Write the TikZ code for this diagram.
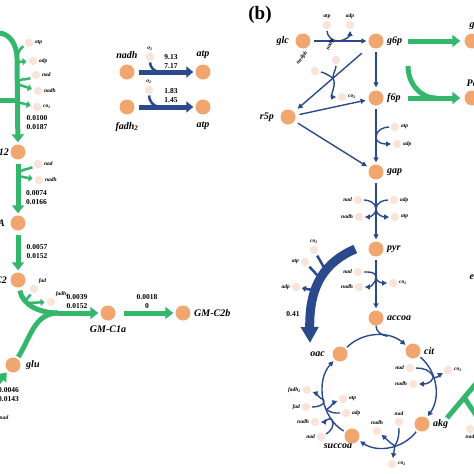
\documentclass[tikz,border=0pt]{standalone}
\usepackage{fontspec}
\setmainfont{Liberation Serif}
\usetikzlibrary{arrows.meta, positioning, calc}
\definecolor{metab}{HTML}{F2A66F}
\definecolor{cofac}{HTML}{F8E4D8}
\definecolor{gmflux}{HTML}{34B76C}
\definecolor{cmflux}{HTML}{2B4A8B}

\begin{document}
\begin{tikzpicture}[x=1pt, y=-1pt,
    met/.style={circle, fill=metab, minimum size=15pt, inner sep=0pt},
    cof/.style={circle, fill=cofac, minimum size=8.5pt, inner sep=0pt},
    mlab/.style={font=\fontsize{10}{10}\selectfont\bfseries\itshape},
    clab/.style={font=\fontsize{5.5}{6}\selectfont\bfseries\itshape, inner sep=1.5pt},
    val/.style={font=\fontsize{7.5}{9}\selectfont\bfseries, align=center, inner sep=0pt},
    gline/.style={gmflux, line width=5pt},
    gflux/.style={gline, -{Triangle[length=8pt, width=12pt]}},
    gtwig/.style={gmflux, line width=2.5pt},
    gtwiga/.style={gtwig, -{Triangle[length=4pt, width=7pt]}},
    bline/.style={cmflux, line width=1.4pt},
    bflux/.style={bline, -{Triangle[length=5pt, width=5pt]}},
    bwide/.style={cmflux, line width=5pt, -{Triangle[length=7pt, width=11pt]}},
    bhuge/.style={cmflux, line width=9pt, -{Triangle[length=16pt, width=17pt]}},
  ]
  \useasboundingbox (0,0) rectangle (474,474);

  % (a) glycogen side
  \coordinate (topin) at (-2,33);
  \coordinate (tbend) at (17,58);
  \coordinate (sidein) at (-2,100);
  \coordinate (tjoin) at (17,100);
  \coordinate (tja) at (17,62);
  \coordinate (tjb) at (17,84);
  \coordinate (tjc) at (17,102);
  \node[met, label={[mlab, label distance=-2pt]left:A12}] (A12) at (18,152) {};
  \node[cof, label={[clab]right:atp}] (ka1) at (29,43) {};
  \node[cof, label={[clab]right:adp}] (ka2) at (33,61) {};
  \node[cof, label={[clab]right:nad}] (ka3) at (36,75) {};
  \node[cof, label={[clab]right:nadh}] (ka4) at (38,91) {};
  \node[cof, label={[clab]right:co\textsubscript{2}}] (ka5) at (37,107) {};
  \draw[gtwig, shorten <=2pt] (ka1) to[out=210, in=90] (tja);
  \draw[gtwiga, shorten >=2pt] (tja) -- (ka2);
  \draw[gtwig, shorten <=2pt] (ka3) to[out=210, in=90] (tjb);
  \draw[gtwiga, shorten >=2pt] (tjb) -- (ka4);
  \draw[gtwiga, shorten >=2pt] (tjc) -- (ka5);
  \draw[gline] (sidein) -- (tjoin);
  \draw[gflux, shorten >=2pt] (topin) to[out=0, in=90] (tbend) -- (A12);
  \node[val] (va1) at (37,122.5) {0.0100\\0.0187};

  \node[met, label={[mlab, label distance=2pt]left:-A}] (Aa) at (18,223) {};
  \node[cof, label={[clab]right:nad}] (kb1) at (38,164) {};
  \node[cof, label={[clab]right:nadh}] (kb2) at (39,180) {};
  \coordinate (tjd) at (18,176);
  \draw[gtwig, shorten <=2pt] (kb1) to[out=210, in=90] (tjd);
  \draw[gtwiga, shorten >=2pt] (tjd) -- (kb2);
  \draw[gflux, shorten <=4pt, shorten >=2pt] (A12) -- (Aa);
  \node[val] (va2) at (36.5,197.5) {0.0074\\0.0166};

  \node[met, label={[mlab]left:C2}] (C2) at (18,280) {};
  \draw[gflux, shorten <=4pt, shorten >=2pt] (Aa) -- (C2);
  \node[val] (va3) at (37,251.5) {0.0057\\0.0152};

  \node[met, label={[mlab, label distance=2pt]below:GM-C1a}] (C1a) at (108,313) {};
  \node[met, label={[mlab]right:GM-C2b}] (C2b) at (183,313) {};
  \node[met, label={[mlab, label distance=2pt]right:glu}] (glu) at (13,365) {};
  \node[cof, label={[clab]above right:fad}] (kc1) at (34,289) {};
  \node[cof, label={[clab]above right:fadh\textsubscript{2}}] (kc2) at (51,302) {};
  \coordinate (cjoin) at (58,313);
  \coordinate (tje) at (25,303);
  \coordinate (gluin) at (-10,392);
  \draw[gtwig, shorten <=2pt] (kc1) to[out=240, in=80] (tje);
  \draw[gtwiga, shorten >=2pt] (tje) -- (kc2);
  \draw[gline, shorten <=3pt] (C2) to[out=-80, in=180] (cjoin);
  \draw[gline, shorten <=2pt] (glu) to[out=57, in=180] (cjoin);
  \draw[gflux, shorten >=2pt] (cjoin) -- (C1a);
  \draw[gflux, shorten <=8pt, shorten >=2pt] (C1a) -- (C2b);
  \draw[gflux, shorten >=2pt] (gluin) -- (glu);
  \node[val] (va4) at (77,301.5) {0.0039\\0.0152};
  \node[val] (va5) at (147,301.5) {0.0018\\0};
  \node[val] (va6) at (8.5,395) {0.0046\\0.0143};
  \node[clab, anchor=east] (cutnad) at (10,418) {nad};

  % (a) respiration
  \node[met, label={[mlab, label distance=2pt]above:nadh}] (nadh) at (127,72) {};
  \node[met, label={[mlab, label distance=2pt]above:atp}] (atpa) at (203,72) {};
  \node[cof, label={[clab]above:o\textsubscript{2}}] (o2a) at (150,57) {};
  \coordinate (oja) at (160,72);
  \draw[cmflux, line width=2.5pt, shorten <=1pt] (o2a) to[out=-90, in=180] (oja);
  \draw[bwide, shorten <=4pt, shorten >=2pt] (nadh) -- (atpa);
  \node[val] (vb1) at (171,61.5) {9.13\\7.17};

  \node[met, label={[mlab, label distance=4pt]below:fadh\textsubscript{2}}] (fadh) at (127,107) {};
  \node[met, label={[mlab, label distance=4pt]below:atp}] (atpb) at (203,107) {};
  \node[cof, label={[clab]above:o\textsubscript{2}}] (o2b) at (149,90) {};
  \coordinate (ojb) at (160,107);
  \draw[cmflux, line width=2.5pt, shorten <=1pt] (o2b) to[out=-90, in=180] (ojb);
  \draw[bwide, shorten <=4pt, shorten >=2pt] (fadh) -- (atpb);
  \node[val] (vb2) at (171,96) {1.83\\1.45};

  % (b) central carbon
  \node[font=\fontsize{19}{19}\selectfont\bfseries] (panb) at (260,15) {(b)};
  \node[met, label={[mlab, label distance=3pt]left:glc}] (glc) at (303,41) {};
  \node[met, label={[mlab]right:g6p}] (g6p) at (376,41) {};
  \node[cof, label={[clab]above:atp}] (kg1) at (327,25) {};
  \node[cof, label={[clab]above:adp}] (kg2) at (350,25) {};
  \coordinate (gj1) at (338,41);
  \draw[bline, shorten <=1.5pt] (kg1) to[out=-90, in=180] (gj1);
  \draw[bflux, shorten >=1.5pt] (gj1) to[out=0, in=-90] (kg2);
  \draw[bflux, shorten <=3pt, shorten >=2pt] (glc) -- (g6p);

  \node[met, label={[mlab]above:g}] (gly) at (472,41) {};
  \node[met, label={[mlab]above:Pc}] (pcx) at (472,98) {};
  \node[met, label={[mlab]right:f6p}] (f6p) at (376,98) {};
  \coordinate (pin) at (408,66);
  \coordinate (pj) at (436,98);
  \draw[gflux, shorten <=24pt, shorten >=4pt] (g6p) -- (gly);
  \draw[gline] (pin) to[out=-90, in=180] (pj);
  \draw[gflux, shorten <=24pt, shorten >=4pt] (f6p) -- (pcx);

  \node[met, label={[mlab, label distance=3pt]left:r5p}] (r5p) at (288,117) {};
  \node[cof] (kr1) at (315,71) {};
  \node[cof] (kr2) at (336,60) {};
  \node[cof, label={[clab]right:co\textsubscript{2}}] (kr3) at (342,97) {};
  \node[clab, rotate=50] (lnadph) at (302,58) {nadph};
  \node[clab, rotate=65] (lnadp) at (330,45) {nadp};
  \coordinate (rj) at (333,78);
  \draw[bline, shorten <=1.5pt] (kr1) to[out=-10, in=150] (rj);
  \draw[bline, shorten <=1.5pt] (kr2) to[out=-90, in=90] (rj);
  \draw[bflux, shorten >=1.5pt] (rj) to[out=-60, in=180] (kr3);
  \draw[bflux, shorten <=11pt, shorten >=5pt] (g6p) -- (r5p);
  \draw[bflux, shorten <=3pt, shorten >=3pt] (g6p) -- (f6p);
  \draw[bflux, shorten <=4pt, shorten >=3pt] (r5p) -- (f6p);

  \node[met, label={[mlab]right:gap}] (gap) at (376,172) {};
  \node[cof, label={[clab]right:atp}] (kf1) at (395,127) {};
  \node[cof, label={[clab]right:adp}] (kf2) at (397,144) {};
  \coordinate (fj) at (376,137);
  \draw[bline, shorten <=1.5pt] (kf1) to[out=180, in=90] (fj);
  \draw[bflux, shorten >=1.5pt] (fj) to[out=-90, in=180] (kf2);
  \draw[bflux, shorten <=3pt, shorten >=2pt] (f6p) -- (gap);
  \draw[bflux, shorten <=4pt, shorten >=3pt] (r5p) -- (gap);

  \node[met, label={[mlab]right:pyr}] (pyr) at (376,249) {};
  \node[cof, label={[clab]left:nad}] (kp1) at (358,200) {};
  \node[cof, label={[clab]left:nadh}] (kp2) at (359,217) {};
  \node[cof, label={[clab]right:adp}] (kp3) at (394,200) {};
  \node[cof, label={[clab]right:atp}] (kp4) at (395,217) {};
  \coordinate (pj1) at (376,209);
  \draw[bline, shorten <=1.5pt] (kp1) to[out=0, in=90] (pj1);
  \draw[bline, shorten <=1.5pt] (kp3) to[out=180, in=90] (pj1);
  \draw[bflux, shorten >=1.5pt] (pj1) to[out=-90, in=0] (kp2);
  \draw[bflux, shorten >=1.5pt] (pj1) to[out=-90, in=180] (kp4);
  \draw[bflux, shorten <=3pt, shorten >=2pt] (gap) -- (pyr);

  \node[met, label={[mlab]right:accoa}] (accoa) at (376,318) {};
  \node[cof, label={[clab]left:nad}] (kq1) at (358,272) {};
  \node[cof, label={[clab]left:nadh}] (kq2) at (359,287) {};
  \node[cof, label={[clab]right:co\textsubscript{2}}] (kq3) at (393,283) {};
  \coordinate (qj) at (376,277);
  \draw[bline, shorten <=1.5pt] (kq1) to[out=0, in=90] (qj);
  \draw[bflux, shorten >=1.5pt] (qj) to[out=-90, in=0] (kq2);
  \draw[bflux, shorten >=1.5pt] (qj) to[out=-90, in=180] (kq3);
  \draw[bflux, shorten <=3pt, shorten >=2pt] (pyr) -- (accoa);

  % anaplerotic pyr -> oac
  \node[cof, label={[clab]above:co\textsubscript{2}}] (kx1) at (314,250) {};
  \node[cof, label={[clab]left:atp}] (kx2) at (305,262) {};
  \node[cof, label={[clab]left:adp}] (kx3) at (296,287) {};
  \coordinate (xo) at (310,343);
  \path ([xshift=-13pt]pyr.west) .. controls (325,262) and (309,285) .. coordinate[pos=0.4] (xj1) coordinate[pos=0.5] (xj2) coordinate[pos=0.62] (xj3) (xo);
  \draw[cmflux, line width=2.5pt, shorten >=2pt] (xj1) -- (kx1);
  \draw[cmflux, line width=2.5pt, shorten <=2pt] (kx2) -- (xj2);
  \draw[cmflux, line width=2.5pt, shorten >=1.5pt, -{Triangle[length=4pt, width=6pt]}] (xj3) -- (kx3);
  \draw[bhuge] ([xshift=-13pt]pyr.west) .. controls (325,262) and (309,285) .. (xo);
  \node[val] (vx) at (293,314) {0.41};

  % TCA cycle
  \node[met, label={[mlab, label distance=4pt]left:oac}] (oac) at (340,354) {};
  \node[met, label={[mlab]right:cit}] (cit) at (413,351) {};
  \node[met, label={[mlab]right:akg}] (akg) at (422,424) {};
  \node[met, label={[mlab, xshift=-14pt, label distance=-3pt]below:succoa}] (succoa) at (352,436) {};
  \draw[bflux, shorten <=2pt, shorten >=2pt] (oac) to[bend left=42] coordinate[pos=0.68] (tj0) (cit);
  \draw[bline] (accoa) to[out=-90, in=168] (tj0);

  \node[cof, label={[clab]left:nad}] (kt1) at (410,368) {};
  \node[cof, label={[clab]left:nadh}] (kt2) at (413,384) {};
  \node[cof, label={[clab]right:co\textsubscript{2}}] (kt3) at (448,370) {};
  \draw[bflux, shorten <=2pt, shorten >=2pt] (cit) to[bend left=43] coordinate[pos=0.38] (tj1) (akg);
  \draw[bline, shorten <=1.5pt] (kt1) to[out=0, in=108] (tj1);
  \draw[bflux, shorten >=1.5pt] (tj1) to[out=-110, in=0] (kt2);
  \draw[bflux, shorten >=1.5pt] (tj1) to[out=-10, in=-150] (kt3);

  \node[cof, label={[clab]above:nad}] (kt4) at (399,422) {};
  \node[cof, label={[clab]above:nadh}] (kt5) at (377,431) {};
  \node[cof, label={[clab]right:co\textsubscript{2}}] (kt6) at (392,464) {};
  \draw[bflux, shorten <=2pt, shorten >=2pt] (akg) to[bend left=43] coordinate[pos=0.42] (tj2) (succoa);
  \draw[bline, shorten <=1.5pt] (kt4) to[out=-90, in=60] (tj2);
  \draw[bflux, shorten >=1.5pt] (tj2) to[out=150, in=-40] (kt5);
  \draw[bflux, shorten >=1.5pt] (tj2) -- (kt6);

  \node[cof, label={[clab]left:fadh\textsubscript{2}}] (kt7) at (307,390) {};
  \node[cof, label={[clab]left:fad}] (kt8) at (306,407) {};
  \node[cof, label={[clab]left:nadh}] (kt9) at (315,422) {};
  \node[cof, label={[clab]left:nad}] (kt10) at (321,437) {};
  \node[cof, label={[clab]right:atp}] (kt11) at (343,399) {};
  \node[cof, label={[clab]right:adp}] (kt12) at (346,413) {};
  \draw[bflux, shorten <=2pt, shorten >=2pt] (succoa) to[bend left=51] coordinate[pos=0.22] (tj3) coordinate[pos=0.36] (tj4) coordinate[pos=0.48] (tj5) (oac);
  \draw[bline, shorten <=1.5pt] (kt10) to[out=30, in=-60] (tj3);
  \draw[bflux, shorten >=1.5pt] (tj3) to[out=150, in=0] (kt9);
  \draw[bline, shorten <=1.5pt] (kt12) to[out=180, in=-40] (tj4);
  \draw[bflux, shorten >=1.5pt] (tj4) to[out=30, in=200] (kt11);
  \draw[bline, shorten <=1.5pt] (kt8) to[out=0, in=-70] (tj5);
  \draw[bflux, shorten >=1.5pt] (tj5) to[out=160, in=-20] (kt7);

  % right edge, cut off
  \coordinate (gr1) at (447,418);
  \coordinate (gr2) at (484,374);
  \coordinate (gr3) at (464,397);
  \coordinate (gr4) at (480,424);
  \draw[gline] (gr1) -- (gr2);
  \draw[gline] (gr3) to[out=-60, in=110] (gr4);
  \node[cof, label={[clab]below:nad}] (kz1) at (470,429) {};
  \node[mlab, anchor=west] (cutlab) at (466,277) {e};
\end{tikzpicture}
\end{document}
